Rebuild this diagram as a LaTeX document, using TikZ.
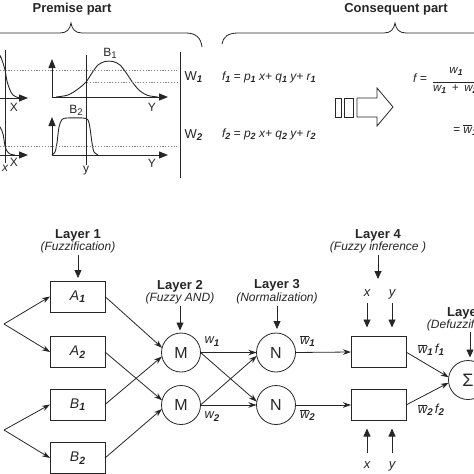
\documentclass[tikz,border=0pt]{standalone}
\usepackage{fontspec}
\usepackage{graphicx}
\setmainfont{Liberation Sans}
\usetikzlibrary{arrows.meta}
\newcommand\sbi[1]{\raisebox{-0.32ex}{\scalebox{0.75}{\bfseries\itshape #1}}}
\newcommand\sbr[1]{\raisebox{-0.32ex}{\scalebox{0.8}{#1}}}
\newcommand\wbar{$\overline{\mbox{\itshape w}}$}
\tikzset{
 every node/.style={inner sep=0pt, outer sep=0pt, text=black!85},
 ttl/.style={font=\fontsize{13}{15}\selectfont\bfseries, anchor=base},
 subttl/.style={font=\fontsize{12}{14}\selectfont\itshape, anchor=base},
 unitbox/.style={draw=black!85, line width=0.8pt, minimum width=55pt, minimum height=31pt, font=\fontsize{14}{16}\selectfont\itshape},
 neuron/.style={draw=black!85, circle, line width=0.8pt, minimum size=39pt, font=\fontsize{16}{18}\selectfont},
 conn/.style={draw=black!85, line width=0.8pt, -{Stealth[length=8pt,width=5.5pt]}},
 lay/.style={draw=black!85, line width=0.8pt, -{Triangle[length=8pt,width=7pt]}},
 axarrow/.style={draw=black!85, line width=1pt, -{Triangle[length=9pt,width=7pt]}},
 guideline/.style={draw=black!85, line width=0.8pt},
 dotline/.style={draw=gray, line width=0.7pt, dash pattern=on 1.2pt off 1.6pt},
 mfcurve/.style={draw=black!85, line width=0.9pt},
 lbl/.style={font=\fontsize{12}{14}\selectfont},
 ilbl/.style={font=\fontsize{12}{14}\selectfont\itshape},
 netlbl/.style={font=\fontsize{13}{15}\selectfont\itshape},
 xylbl/.style={font=\fontsize{13}{15}\selectfont\itshape, anchor=base, text height=7pt, text depth=3pt},
 bracestyle/.style={draw=black!85, line width=0.8pt},
}
\begin{document}
\begin{tikzpicture}[x=1pt,y=-1pt]
\useasboundingbox (0,0) rectangle (474,474);
\clip (0,0) rectangle (474,474);

% ---------- top: titles and braces
\node[ttl] (prem) at (72,12.7) {Premise part};
\node[ttl] (cons) at (396,12.7) {Consequent part};
\draw[bracestyle] (-60,47) .. controls (-58,37) and (-52,33) .. (-40,33) -- (60,33)
  .. controls (67,33) and (70,29) .. (71,23) .. controls (72,29) and (75,33) .. (82,33)
  -- (186,33) .. controls (196,33) and (201,38) .. (202,47);
\draw[bracestyle] (222,44) .. controls (223,37) and (228,33) .. (238,33) -- (384,33)
  .. controls (391,33) and (394,29) .. (395,23) .. controls (396,29) and (399,33) .. (406,33)
  -- (560,33);

% ---------- premise charts
\draw[guideline] (180,52) -- (180,178);
\draw[axarrow] (-40,98) -- (28,98);
\draw[axarrow] (-40,155) -- (28,155);
\draw[guideline] (5,50) -- (5,163);
\draw[mfcurve] plot[smooth] coordinates {(-6,52) (-1,54) (2,60) (5,70) (7,81) (10,90) (13,95) (18,97.5) (24,98)};
\draw[mfcurve] plot[smooth] coordinates {(-5,124) (0,127) (3,134) (5,146) (7,151) (10,154) (15,155)};
\node[lbl] (A1lbl) at (-5,53) {A\sbr{1}};
\node[lbl] (X1) at (14,107) {X};
\node[lbl] (X2) at (14,162.5) {X};
\node[ilbl] (xin) at (5,168.5) {x};

\draw[axarrow] (52,97) -- (52,59);
\draw[axarrow] (52,97) -- (168,97);
\draw[axarrow] (52,155) -- (52,117);
\draw[axarrow] (52,155) -- (168,155);
\draw[guideline] (86,55) -- (86,165);
\draw[mfcurve] plot[smooth] coordinates {(56,97) (68,95) (78,89) (86,82) (92,73) (98,65) (105,61.5) (113,61.5) (120,65) (127,74) (133,83) (140,91) (148,95.5) (158,97)};
\draw[mfcurve] plot[smooth, tension=0.5] coordinates {(52,155) (55,152) (57,143) (59,127) (62,119.5) (67,118) (83,118) (88,120) (90,128) (92,143) (94,152) (98,155)};
\node[lbl] (B1lbl) at (110,53) {B\sbr{1}};
\node[lbl] (B2lbl) at (76,110) {B\sbr{2}};
\node[lbl] (Y1) at (152,107) {Y};
\node[lbl] (Y2) at (152,163) {Y};
\node[lbl] (yin) at (86,171) {y};
\draw[dotline] (0,70) -- (177,70);
\draw[dotline] (87,82) -- (178,82);
\draw[dotline] (0,146) -- (177,146);

\node[font=\fontsize{13}{15}\selectfont] (W1) at (193.5,77) {W\sbi{1}};
\node[font=\fontsize{13}{15}\selectfont] (W2) at (193.5,135) {W\sbi{2}};

% ---------- consequent
\node[ilbl, anchor=west] (f1) at (222,77) {f\sbi{1} = p\sbi{1} x+ q\sbi{1} y+ r\sbi{1}};
\node[ilbl, anchor=west] (f2) at (222,134) {f\sbi{2} = p\sbi{2} x+ q\sbi{2} y+ r\sbi{2}};
\draw[guideline] (335,98) rectangle (341,117);
\draw[guideline] (344,98) rectangle (353,117);
\draw[guideline] (357,98) -- (377,98) -- (377,88) -- (393,107) -- (377,126) -- (377,117) -- (357,117) -- cycle;

\node[ilbl] (fres) at (420,78) {f =};
\node[font=\fontsize{11.5}{13}\selectfont\itshape] (num) at (456,71) {w\sbi{1}};
\draw[guideline, line width=0.7pt] (433,82) -- (495,82);
\node[font=\fontsize{11.5}{13}\selectfont\itshape, anchor=west] (den) at (433,89) {w\sbi{1}\enspace+\enspace w\sbi{2}};
\node[ilbl, anchor=west] (res) at (453,130) {=\ \wbar\sbi{1} f\sbi{1} + \wbar\sbi{2} f\sbi{2}};

% ---------- network
\node[unitbox] (A1) at (77.5,296.5) {A\sbi{1}};
\node[unitbox] (A2) at (77.5,352) {A\sbi{2}};
\node[unitbox] (B1) at (77.5,404.5) {B\sbi{1}};
\node[unitbox] (B2) at (77.5,458) {B\sbi{2}};
\node[neuron] (M1) at (181,352.5) {M};
\node[neuron] (M2) at (181,405) {M};
\node[neuron] (N1) at (276,352.5) {N};
\node[neuron] (N2) at (276,405) {N};
\node[unitbox] (C1) at (378.5,352) {};
\node[unitbox] (C2) at (378.5,405) {};
\node[neuron, font=\fontsize{18}{20}\selectfont] (S) at (468,380) {Σ};

\node[ttl] (L1) at (78,238) {Layer 1};
\node[subttl] (L1s) at (78,250.5) {(Fuzzification)};
\node[ttl] (L2) at (180,289) {Layer 2};
\node[subttl] (L2s) at (180,301.5) {(Fuzzy AND)};
\node[ttl] (L3) at (277,288.3) {Layer 3};
\node[subttl] (L3s) at (277,301.5) {(Normalization)};
\node[ttl] (L4) at (378,238) {Layer 4};
\node[subttl] (L4s) at (378,250.5) {(Fuzzy inference )};
\node[ttl] (L5) at (470,316) {Layer 5};
\node[subttl] (L5s) at (470,328) {(Defuzzification)};
\coordinate (L4end) at (378,279);

\draw[lay, shorten <=2pt, shorten >=3pt] (L1s.south) -- (L1s.south |- A1.north);
\draw[lay, shorten <=2pt, shorten >=2.5pt] (L2s.south) -- (L2s.south |- M1.north);
\draw[lay, shorten <=2pt, shorten >=4pt] (L3s.south) -- (L3s.south |- N1.north);
\draw[lay, shorten <=2pt] (L4s.south) -- (L4end);
\draw[lay, shorten <=2pt, shorten >=3pt] (L5s.south) -- (L5s.south |- S.north);

\node[xylbl] (xt) at (367,296) {x};
\node[xylbl] (yt) at (392,296) {y};
\node[xylbl] (xb) at (367,468) {x};
\node[xylbl] (yb) at (392,468) {y};
\draw[lay, shorten <=4pt, shorten >=9pt] (xt.south) -- (xt.south |- C1.north);
\draw[lay, shorten <=4pt, shorten >=9pt] (yt.south) -- (yt.south |- C1.north);
\draw[lay, shorten <=8pt, shorten >=8pt] (xb.north) -- (xb.north |- C2.south);
\draw[lay, shorten <=8pt, shorten >=8pt] (yb.north) -- (yb.north |- C2.south);

\coordinate (in1) at (4,324);
\coordinate (in2) at (4,430);
\draw[conn] (in1) -- (A1.west);
\draw[conn] (in1) -- (A2.west);
\draw[conn] (in2) -- (B1.west);
\draw[conn] (in2) -- (B2.west);

\draw[conn] (A1.east) -- (M1.166);
\draw[conn] (B1.east) -- (M1.192);
\draw[conn] (A2.east) -- (M2.166);
\draw[conn] (B2.east) -- (M2.192);

\draw[conn] (M1.east) -- (N1.west);
\draw[conn] (M1.east) -- (N2.170);
\draw[conn] (M2.east) -- (N1.190);
\draw[conn] (M2.east) -- (N2.west);

\draw[conn] (N1.east) -- (C1.west);
\draw[conn] (N2.east) -- (C2.west);
\draw[conn] (C1.east) -- (S.172);
\draw[conn] (C2.east) -- (S.188);

\node[netlbl] (w1) at (212,341.5) {w\sbi{1}};
\node[netlbl] (w2) at (212,416.5) {w\sbi{2}};
\node[netlbl] (wb1) at (307.5,341) {\wbar\sbi{1}};
\node[netlbl] (wb2) at (307.5,415) {\wbar\sbi{2}};
\node[netlbl] (wf1) at (431,350) {\wbar\sbi{1}\,f\sbi{1}};
\node[netlbl] (wf2) at (431,410) {\wbar\sbi{2}\,f\sbi{2}};
\end{tikzpicture}
\end{document}
